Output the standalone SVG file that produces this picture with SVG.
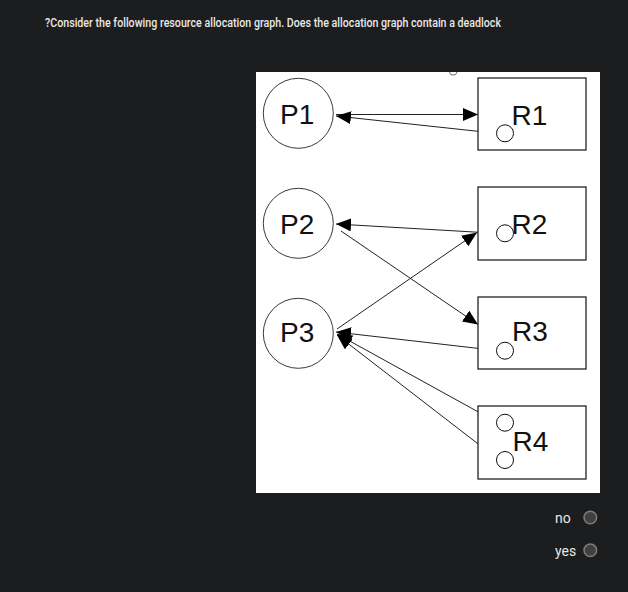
<svg xmlns="http://www.w3.org/2000/svg" width="628" height="592" viewBox="0 0 628 592">
<style>
.proc{fill:#fff;stroke:#3a3a3a;stroke-width:1}
.res{fill:#fff;stroke:#222;stroke-width:1.3}
.inst{fill:#fff;stroke:#111;stroke-width:1}
.lbl{font-family:"Liberation Sans",Arial,sans-serif;font-size:28px;fill:#111}
.edge{stroke:#222;stroke-width:1;fill:none}
.ui{font-family:Roboto,"Open Sans","Noto Sans",sans-serif;fill:#e8e8e8}
.radio{fill:#404040;stroke:#7c7c7c;stroke-width:1.5}
</style>
<defs>
<marker id="ah" markerUnits="userSpaceOnUse" markerWidth="16" markerHeight="14" refX="15" refY="6.5" orient="auto">
<path d="M0,0 L15,6.5 L0,13 Z" fill="#000"/>
</marker>
</defs>
<rect x="0" y="0" width="628" height="592" fill="#1c1d1f"/>
<text class="ui" x="45" y="27" font-size="13" font-weight="500" textLength="456" lengthAdjust="spacingAndGlyphs">?Consider the following resource allocation graph. Does the allocation graph contain a deadlock</text>
<rect x="256" y="72" width="344" height="421" fill="#fff"/>
<path d="M449.5,72 A3.8,3.8 0 0 0 457,72" fill="none" stroke="#666" stroke-width="1"/>
<g id="connectors">
<line class="edge" x1="336" y1="114.5" x2="478" y2="114.5" marker-end="url(#ah)"/>
<line class="edge" x1="496.5" y1="133.3" x2="336" y2="116" marker-end="url(#ah)"/>
<line class="edge" x1="496.5" y1="233.3" x2="336" y2="224" marker-end="url(#ah)"/>
<line class="edge" x1="337" y1="329" x2="477" y2="232.5" marker-end="url(#ah)"/>
<line class="edge" x1="341" y1="231" x2="478" y2="324.5" marker-end="url(#ah)"/>
<line class="edge" x1="496.5" y1="350.5" x2="336" y2="332" marker-end="url(#ah)"/>
<line class="edge" x1="496.5" y1="422" x2="337" y2="334" marker-end="url(#ah)"/>
<line class="edge" x1="497" y1="458.5" x2="337" y2="335" marker-end="url(#ah)"/>
</g>
<g id="P1"><circle class="proc" cx="298.3" cy="113.3" r="35"/><text class="lbl" x="280" y="124">P1</text></g>
<g id="P2"><circle class="proc" cx="298.3" cy="223.3" r="35"/><text class="lbl" x="280" y="234">P2</text></g>
<g id="P3"><circle class="proc" cx="298.3" cy="333.3" r="35"/><text class="lbl" x="280" y="341.5">P3</text></g>
<g id="R1"><rect class="res" x="478" y="78" width="108" height="72"/><text class="lbl" x="511.5" y="125">R1</text><circle class="inst" cx="505" cy="133.3" r="8.5"/></g>
<g id="R2"><rect class="res" x="478" y="187" width="108" height="73"/><text class="lbl" x="511.5" y="234">R2</text><circle class="inst" cx="505" cy="233.3" r="8.5"/></g>
<g id="R3"><rect class="res" x="478" y="297" width="108" height="72"/><text class="lbl" x="512" y="341">R3</text><circle class="inst" cx="505" cy="350.7" r="8.5"/></g>
<g id="R4"><rect class="res" x="478" y="406" width="108" height="73"/><text class="lbl" x="512.5" y="450.5">R4</text><circle class="inst" cx="505" cy="422.7" r="8.5"/><circle class="inst" cx="505" cy="460" r="8.5"/></g>
<g id="answers">
<text class="ui" x="555" y="523" font-size="14">no</text>
<circle class="radio" cx="590.3" cy="517.5" r="6.3"/>
<text class="ui" x="555" y="555.5" font-size="14">yes</text>
<circle class="radio" cx="590.3" cy="550.3" r="6.3"/>
</g>
</svg>
